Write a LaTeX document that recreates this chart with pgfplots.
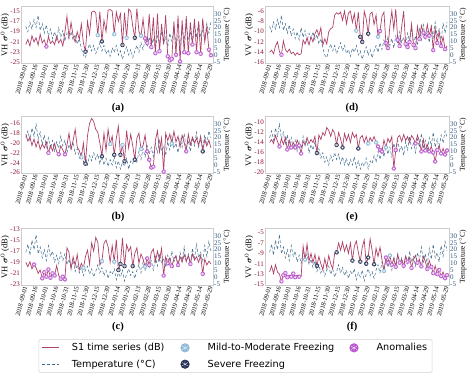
\documentclass[border=0pt]{standalone}
\usepackage{amsmath}
\usepackage{pgfplots}
\usepackage{pgfplotstable}
\pgfplotsset{compat=1.18}
\usepackage{fontspec}
\setmainfont{Liberation Serif}
\newfontfamily\legfont{DejaVu Sans}
\newcommand{\fs}[1]{\fontsize{#1}{#1}\selectfont}

\definecolor{sone}{RGB}{175,65,105}
\definecolor{tmp}{RGB}{60,105,140}
\definecolor{mild}{RGB}{140,185,215}
\definecolor{sev}{RGB}{35,45,80}
\definecolor{anom}{RGB}{185,85,205}
\definecolor{ltick}{RGB}{140,20,50}
\definecolor{rtick}{RGB}{50,90,130}

\pgfdeclareplotmark{flake}{%
  \pgfpathcircle{\pgfpointorigin}{\pgfplotmarksize}%
  \pgfusepathqfill
  \pgfsetstrokecolor{white}%
  \pgfsetlinewidth{0.25pt}%
  \pgfpathmoveto{\pgfpointpolar{90}{0.75\pgfplotmarksize}}\pgfpathlineto{\pgfpointpolar{270}{0.75\pgfplotmarksize}}%
  \pgfpathmoveto{\pgfpointpolar{30}{0.75\pgfplotmarksize}}\pgfpathlineto{\pgfpointpolar{210}{0.75\pgfplotmarksize}}%
  \pgfpathmoveto{\pgfpointpolar{150}{0.75\pgfplotmarksize}}\pgfpathlineto{\pgfpointpolar{330}{0.75\pgfplotmarksize}}%
  \pgfusepathqstroke
}

\pgfplotsset{
  common/.style={scale only axis, anchor=south west, height=57pt, xmin=-7, xmax=273,
    /pgf/number format/assume math mode=true, tick style={draw=none},
    axis line style={gray!40, line width=0.6pt}},
  tempax/.style={common, axis x line=none, axis y line*=right, ymin=-6.2, ymax=35.5,
    ytick={-5,0,...,30}, yticklabel style={font=\fs{7}, text=rtick, inner sep=1pt},
    ylabel={Temperature ($^{\circ}$C)}, ylabel style={font=\fs{7.5}, inner sep=1pt}},
  s1ax/.style={common, xtick={0,15,...,270},
    xticklabels={2018-09-01,2018-09-16,2018-10-01,2018-10-16,2018-10-31,2018-11-15,2018-11-30,2018-12-15,2018-12-30,2019-01-14,2019-01-29,2019-02-13,2019-02-28,2019-03-15,2019-03-30,2019-04-14,2019-04-29,2019-05-14,2019-05-29},
    xticklabel style={rotate=75, anchor=east, font=\fs{6.5}, inner sep=1pt},
    yticklabel style={font=\fs{7}, text=ltick, inner sep=1pt},
    ylabel style={font=\fs{8.5}, inner sep=0pt}},
  s1line/.style={sone, line width=0.7pt, no marks},
  tmpline/.style={tmp, densely dashed, line width=0.5pt, no marks},
  mk/.style={only marks, mark=flake, mark size=2.2pt},
}

\pgfplotstableread[row sep=\\]{x y\\0 21\\3 17\\6 24\\9 19\\12 26\\15 20\\18 29\\21 18\\24 23\\27 16\\30 22\\33 14\\36 19\\39 12\\42 17\\45 11\\48 20\\51 13\\54 18\\57 10\\60 16\\63 12\\66 17\\69 11\\72 15\\75 8\\78 12\\81 5\\84 0\\87 -2\\90 4\\93 8\\96 3\\99 7\\102 1\\105 5\\108 9\\111 3\\114 7\\117 1\\120 4\\123 -1\\126 5\\129 2\\132 7\\135 0\\138 3\\141 -3\\144 2\\147 6\\150 0\\153 4\\156 -2\\159 3\\162 7\\165 2\\168 9\\171 4\\174 11\\177 6\\180 13\\183 7\\186 12\\189 5\\192 14\\195 8\\198 17\\201 9\\204 13\\207 6\\210 16\\213 10\\216 20\\219 8\\222 14\\225 7\\228 19\\231 11\\234 22\\237 12\\240 17\\243 9\\246 21\\249 13\\252 24\\255 14\\258 19\\261 11\\264 23\\267 16\\270 24\\}\tA

\pgfplotstableread[row sep=\\]{x y\\0 20\\3 25\\6 18\\9 27\\12 21\\15 30\\18 19\\21 24\\24 15\\27 22\\30 13\\33 20\\36 12\\39 18\\42 10\\45 17\\48 12\\51 21\\54 14\\57 18\\60 9\\63 15\\66 11\\69 17\\72 8\\75 12\\78 5\\81 9\\84 2\\87 6\\90 0\\93 7\\96 3\\99 9\\102 4\\105 8\\108 1\\111 6\\114 0\\117 5\\120 -1\\123 4\\126 0\\129 6\\132 -2\\135 3\\138 -3\\141 2\\144 -1\\147 5\\150 -3\\153 3\\156 1\\159 7\\162 2\\165 10\\168 4\\171 12\\174 6\\177 14\\180 8\\183 13\\186 6\\189 16\\192 9\\195 18\\198 10\\201 14\\204 7\\207 17\\210 11\\213 21\\216 12\\219 16\\222 9\\225 19\\228 13\\231 23\\234 12\\237 18\\240 10\\243 20\\246 14\\249 24\\252 13\\255 19\\258 12\\261 22\\264 16\\267 25\\270 20\\}\tB

\pgfplotstableread[row sep=\\]{x y\\0 18\\3 24\\6 16\\9 27\\12 20\\15 31\\18 17\\21 22\\24 14\\27 20\\30 12\\33 23\\36 15\\39 19\\42 11\\45 16\\48 10\\51 18\\54 12\\57 17\\60 9\\63 13\\66 7\\69 12\\72 4\\75 9\\78 3\\81 7\\84 1\\87 5\\90 8\\93 2\\96 6\\99 0\\102 4\\105 9\\108 3\\111 7\\114 1\\117 5\\120 -1\\123 4\\126 2\\129 6\\132 -2\\135 3\\138 0\\141 5\\144 -3\\147 2\\150 6\\153 1\\156 4\\159 -1\\162 5\\165 9\\168 3\\171 11\\174 5\\177 13\\180 7\\183 12\\186 5\\189 15\\192 8\\195 17\\198 10\\201 14\\204 7\\207 16\\210 9\\213 19\\216 11\\219 15\\222 8\\225 18\\228 12\\231 22\\234 11\\237 17\\240 9\\243 21\\246 13\\249 24\\252 14\\255 18\\258 11\\261 23\\264 15\\267 26\\270 19\\}\tC

\pgfplotstableread[row sep=\\]{x y\\0 -21.5\\3 -20.5\\6 -21.8\\9 -19.8\\12 -21.0\\15 -20.2\\18 -21.6\\21 -19.5\\24 -21.2\\27 -20.6\\30 -21.9\\33 -20.0\\36 -21.3\\39 -20.8\\42 -21.5\\45 -19.9\\48 -21.2\\51 -20.5\\54 -21.8\\57 -19.2\\60 -16.0\\63 -20.1\\66 -17.2\\69 -19.8\\72 -21.0\\75 -19.0\\78 -20.5\\81 -17.5\\84 -21.2\\87 -22.9\\90 -17.0\\93 -19.5\\96 -15.2\\99 -15.0\\102 -15.3\\105 -19.7\\108 -15.1\\111 -20.9\\114 -16.8\\117 -19.0\\120 -14.8\\123 -14.7\\126 -15.0\\129 -19.5\\132 -15.2\\135 -17.0\\138 -15.5\\141 -21.6\\144 -15.3\\147 -20.2\\150 -14.6\\153 -15.0\\156 -18.0\\159 -20.2\\162 -14.5\\165 -19.0\\168 -19.8\\171 -16.5\\174 -20.3\\177 -21.2\\180 -15.6\\183 -22.0\\186 -16.2\\189 -23.2\\192 -15.5\\195 -22.8\\198 -17.5\\201 -21.5\\204 -15.8\\207 -23.8\\210 -24.6\\213 -24.3\\216 -17.0\\219 -23.5\\222 -15.9\\225 -24.8\\228 -16.8\\231 -23.0\\234 -16.0\\237 -23.2\\240 -17.2\\243 -21.5\\246 -16.5\\249 -23.0\\252 -17.0\\255 -23.3\\258 -16.4\\261 -21.0\\264 -18.0\\267 -22.5\\270 -23.6\\}\sA

\pgfplotstableread[row sep=\\]{x y\\0 -18.2\\3 -19.6\\6 -18.8\\9 -20.5\\12 -19.2\\15 -20.8\\18 -19.5\\21 -21.3\\24 -20.2\\27 -21.0\\30 -19.8\\33 -22.0\\36 -20.5\\39 -21.6\\42 -20.1\\45 -21.8\\48 -22.3\\51 -20.6\\54 -21.4\\57 -22.3\\60 -20.4\\63 -18.0\\66 -21.2\\69 -19.5\\72 -17.2\\75 -20.8\\78 -21.5\\81 -22.9\\84 -20.0\\87 -24.2\\90 -18.5\\93 -16.0\\96 -15.0\\99 -15.6\\102 -17.2\\105 -17.8\\108 -20.0\\111 -22.7\\114 -18.0\\117 -21.5\\120 -17.2\\123 -20.2\\126 -18.6\\129 -22.4\\132 -19.0\\135 -16.6\\138 -22.4\\141 -20.4\\144 -23.7\\147 -17.5\\150 -21.0\\153 -18.2\\156 -20.6\\159 -23.4\\162 -19.0\\165 -18.0\\168 -21.2\\171 -20.5\\174 -18.4\\177 -21.7\\180 -23.4\\183 -25.0\\186 -24.8\\189 -19.5\\192 -17.5\\195 -21.8\\198 -19.0\\201 -25.8\\204 -18.0\\207 -19.5\\210 -18.2\\213 -20.1\\216 -17.6\\219 -19.8\\222 -18.6\\225 -20.8\\228 -18.4\\231 -19.9\\234 -21.7\\237 -18.2\\240 -20.4\\243 -18.8\\246 -20.0\\249 -19.0\\252 -20.5\\255 -18.6\\258 -21.7\\261 -19.3\\264 -20.6\\267 -19.4\\270 -21.0\\}\sB

\pgfplotstableread[row sep=\\]{x y\\0 -19.0\\3 -19.8\\6 -18.9\\9 -20.2\\12 -19.4\\15 -20.0\\18 -21.0\\21 -20.4\\24 -21.9\\27 -20.8\\30 -21.6\\33 -20.3\\36 -21.8\\39 -21.0\\42 -21.4\\45 -19.6\\48 -21.4\\51 -22.0\\54 -21.6\\57 -22.1\\60 -16.4\\63 -17.2\\66 -20.2\\69 -18.0\\72 -19.6\\75 -17.6\\78 -20.4\\81 -19.2\\84 -20.0\\87 -18.0\\90 -16.8\\93 -19.4\\96 -15.5\\99 -17.0\\102 -14.5\\105 -15.4\\108 -19.5\\111 -18.8\\114 -15.6\\117 -15.0\\120 -16.2\\123 -19.0\\126 -16.0\\129 -18.9\\132 -14.9\\135 -20.4\\138 -19.3\\141 -14.6\\144 -19.7\\147 -15.8\\150 -17.0\\153 -16.2\\156 -19.7\\159 -17.4\\162 -16.4\\165 -19.2\\168 -17.5\\171 -18.4\\174 -19.8\\177 -18.3\\180 -19.5\\183 -17.2\\186 -16.6\\189 -18.9\\192 -17.0\\195 -18.6\\198 -16.5\\201 -21.4\\204 -18.0\\207 -19.2\\210 -18.2\\213 -19.7\\216 -18.4\\219 -17.8\\222 -19.5\\225 -18.0\\228 -19.0\\231 -17.6\\234 -18.8\\237 -17.8\\240 -19.3\\243 -17.5\\246 -18.6\\249 -18.0\\252 -19.0\\255 -17.8\\258 -21.1\\261 -18.4\\264 -19.5\\267 -18.8\\270 -19.3\\}\sC

\pgfplotstableread[row sep=\\]{x y\\0 -14.0\\3 -13.6\\6 -14.3\\9 -12.8\\12 -12.0\\15 -13.9\\18 -14.5\\21 -11.8\\24 -13.5\\27 -14.0\\30 -13.4\\33 -14.3\\36 -14.0\\39 -14.6\\42 -14.1\\45 -14.5\\48 -14.3\\51 -11.6\\54 -12.4\\57 -11.2\\60 -12.6\\63 -11.0\\66 -12.0\\69 -10.4\\72 -9.6\\75 -10.8\\78 -9.2\\81 -12.6\\84 -11.4\\87 -12.4\\90 -10.0\\93 -9.4\\96 -9.2\\99 -6.8\\102 -6.3\\105 -6.6\\108 -6.2\\111 -7.8\\114 -6.0\\117 -8.5\\120 -6.4\\123 -6.0\\126 -8.2\\129 -6.5\\132 -9.8\\135 -6.2\\138 -11.0\\141 -12.0\\144 -6.0\\147 -7.5\\150 -10.4\\153 -6.5\\156 -6.2\\159 -8.6\\162 -6.8\\165 -11.0\\168 -9.9\\171 -7.0\\174 -6.2\\177 -12.2\\180 -13.2\\183 -9.0\\186 -6.0\\189 -9.5\\192 -5.6\\195 -11.6\\198 -12.8\\201 -9.0\\204 -6.0\\207 -12.4\\210 -13.0\\213 -12.0\\216 -8.5\\219 -12.6\\222 -13.2\\225 -9.0\\228 -11.4\\231 -8.8\\234 -10.2\\237 -11.0\\240 -8.6\\243 -10.8\\246 -9.0\\249 -13.6\\252 -9.4\\255 -12.2\\258 -10.0\\261 -12.8\\264 -11.0\\267 -13.4\\270 -12.8\\}\sD

\pgfplotstableread[row sep=\\]{x y\\0 -14.0\\3 -13.4\\6 -14.2\\9 -12.6\\12 -13.8\\15 -14.8\\18 -13.2\\21 -14.4\\24 -13.0\\27 -15.4\\30 -13.6\\33 -15.0\\36 -14.0\\39 -15.0\\42 -13.5\\45 -14.6\\48 -16.2\\51 -13.8\\54 -14.4\\57 -13.0\\60 -14.2\\63 -13.4\\66 -14.0\\69 -12.8\\72 -16.1\\75 -12.5\\78 -13.4\\81 -12.0\\84 -12.6\\87 -11.0\\90 -11.6\\93 -12.8\\96 -11.4\\99 -12.2\\102 -14.5\\105 -12.0\\108 -13.2\\111 -15.0\\114 -12.2\\117 -13.6\\120 -12.4\\123 -14.0\\126 -12.0\\129 -13.0\\132 -12.4\\135 -15.2\\138 -13.0\\141 -12.6\\144 -14.0\\147 -12.8\\150 -14.2\\153 -13.0\\156 -13.8\\159 -12.8\\162 -14.0\\165 -14.8\\168 -15.5\\171 -15.8\\174 -13.5\\177 -15.0\\180 -13.2\\183 -14.0\\186 -12.8\\189 -19.2\\192 -15.5\\195 -13.0\\198 -12.6\\201 -13.8\\204 -12.4\\207 -13.6\\210 -12.8\\213 -14.0\\216 -12.6\\219 -13.2\\222 -14.2\\225 -12.5\\228 -13.8\\231 -15.8\\234 -13.4\\237 -15.6\\240 -14.4\\243 -15.8\\246 -14.8\\249 -16.0\\252 -17.8\\255 -15.5\\258 -14.6\\261 -16.2\\264 -15.2\\267 -16.4\\270 -15.6\\}\sE

\pgfplotstableread[row sep=\\]{x y\\0 -12.6\\3 -11.4\\6 -12.9\\9 -11.2\\12 -12.6\\15 -13.0\\18 -14.4\\21 -13.2\\24 -12.8\\27 -13.6\\30 -13.2\\33 -13.5\\36 -12.9\\39 -13.6\\42 -13.2\\45 -13.5\\48 -13.4\\51 -7.6\\54 -10.2\\57 -7.2\\60 -10.5\\63 -9.0\\66 -10.8\\69 -9.2\\72 -11.4\\75 -9.6\\78 -11.0\\81 -12.2\\84 -10.0\\87 -11.8\\90 -9.4\\93 -11.0\\96 -12.0\\99 -9.0\\102 -8.8\\105 -7.0\\108 -8.4\\111 -6.8\\114 -8.6\\117 -7.4\\120 -9.0\\123 -7.0\\126 -10.4\\129 -7.6\\132 -6.6\\135 -8.8\\138 -10.6\\141 -7.8\\144 -6.4\\147 -11.0\\150 -9.8\\153 -6.2\\156 -8.4\\159 -11.1\\162 -8.0\\165 -9.6\\168 -7.8\\171 -10.2\\174 -12.4\\177 -9.8\\180 -10.8\\183 -9.4\\186 -11.2\\189 -10.0\\192 -11.6\\195 -9.2\\198 -10.8\\201 -10.2\\204 -11.4\\207 -9.6\\210 -10.6\\213 -9.8\\216 -11.8\\219 -10.2\\222 -9.4\\225 -10.8\\228 -10.2\\231 -11.5\\234 -9.6\\237 -10.6\\240 -12.0\\243 -10.4\\246 -11.6\\249 -12.8\\252 -11.4\\255 -13.0\\258 -12.2\\261 -13.4\\264 -12.6\\267 -13.8\\270 -13.2\\}\sF

\begin{document}
\begin{tikzpicture}
\path[use as bounding box] (0pt,0pt) rectangle (474pt,376pt);

% ---------- (a)
\begin{axis}[tempax, at={(21pt,312.5pt)}, width=192pt]
\addplot[tmpline] table {\tA};
\end{axis}
\begin{axis}[s1ax, at={(21pt,312.5pt)}, width=192pt, ymin=-25.2, ymax=-14.1, ytick={-25,-23,...,-15}, ylabel={VH $\boldsymbol{\sigma}^{0}$ (dB)}]
\addplot[s1line] table {\sA};
\addplot[mk, anom] coordinates {(30,-21.9)(174,-20.3)(177,-21.2)(183,-22.0)(189,-23.2)(195,-22.8)(207,-23.8)(210,-24.6)(213,-24.3)(219,-23.5)(225,-24.8)(231,-23.0)(237,-23.2)(243,-21.5)(249,-23.0)(255,-23.3)(267,-22.5)(270,-23.6)};
\addplot[mk, mild] coordinates {(105,-19.7)(129,-19.5)(147,-20.2)(168,-19.8)};
\addplot[mk, sev] coordinates {(87,-22.9)(111,-20.9)(141,-21.6)(159,-20.2)};
\end{axis}

% ---------- (b)
\begin{axis}[tempax, at={(21pt,202.5pt)}, width=192pt]
\addplot[tmpline] table {\tB};
\end{axis}
\begin{axis}[s1ax, at={(21pt,202.5pt)}, width=192pt, ymin=-26.2, ymax=-14.6, ytick={-26,-24,...,-16}, ylabel={VH $\boldsymbol{\sigma}^{0}$ (dB)}]
\addplot[s1line] table {\sB};
\addplot[mk, anom] coordinates {(33,-22.0)(48,-22.3)(57,-22.3)(177,-21.7)(180,-23.4)(183,-25.0)(186,-24.8)(201,-25.8)(234,-21.7)};
\addplot[mk, mild] coordinates {(81,-22.9)(123,-20.2)(141,-20.4)(168,-21.2)(213,-20.1)};
\addplot[mk, sev] coordinates {(87,-24.2)(111,-22.7)(129,-22.4)(138,-22.4)(144,-23.7)(159,-23.4)(258,-21.7)};
\end{axis}

% ---------- (c)
\begin{axis}[tempax, at={(21pt,90.5pt)}, width=192pt]
\addplot[tmpline] table {\tC};
\end{axis}
\begin{axis}[s1ax, at={(21pt,90.5pt)}, width=192pt, ymin=-23.2, ymax=-12.9, ytick={-23,-21,...,-13}, ylabel={VH $\boldsymbol{\sigma}^{0}$ (dB)}]
\addplot[s1line] table {\sC};
\addplot[mk, anom] coordinates {(12,-19.4)(24,-21.9)(27,-20.8)(30,-21.6)(33,-20.3)(36,-21.8)(39,-21.0)(42,-21.4)(51,-22.0)(54,-21.6)(57,-22.1)(177,-18.3)(180,-19.5)(201,-21.4)(207,-19.2)(213,-19.7)(222,-19.5)(240,-19.3)(258,-21.1)};
\addplot[mk, mild] coordinates {(84,-20.0)(111,-18.8)(129,-18.9)(174,-19.8)};
\addplot[mk, sev] coordinates {(135,-20.4)(138,-19.3)(144,-19.7)(156,-19.7)};
\end{axis}

% ---------- (d)
\begin{axis}[tempax, at={(265pt,312.5pt)}, width=184pt]
\addplot[tmpline] table {\tA};
\end{axis}
\begin{axis}[s1ax, at={(265pt,312.5pt)}, width=184pt, ymin=-16.2, ymax=-5.1, ytick={-16,-14,...,-6}, ylabel={VV $\boldsymbol{\sigma}^{0}$ (dB)}]
\addplot[s1line] table {\sD};
\addplot[mk, anom] coordinates {(18,-14.5)(168,-9.9)(177,-12.2)(180,-13.2)(195,-11.6)(198,-12.8)(207,-12.4)(210,-13.0)(213,-12.0)(219,-12.6)(222,-13.2)(228,-11.4)(234,-10.2)(237,-11.0)(243,-10.8)(249,-13.6)(255,-12.2)(261,-12.8)(267,-13.4)};
\addplot[mk, mild] coordinates {(132,-9.8)(165,-11.0)};
\addplot[mk, sev] coordinates {(138,-11.0)(141,-12.0)(150,-10.4)};
\end{axis}

% ---------- (e)
\begin{axis}[tempax, at={(265pt,202.5pt)}, width=184pt]
\addplot[tmpline] table {\tB};
\end{axis}
\begin{axis}[s1ax, at={(265pt,202.5pt)}, width=184pt, ymin=-20.2, ymax=-8.8, ytick={-20,-18,...,-10}, ylabel={VV $\boldsymbol{\sigma}^{0}$ (dB)}]
\addplot[s1line] table {\sE};
\addplot[mk, anom] coordinates {(15,-14.8)(27,-15.4)(33,-15.0)(39,-15.0)(45,-14.6)(48,-16.2)(165,-14.8)(168,-15.5)(171,-15.8)(189,-19.2)(192,-15.5)(222,-14.2)(231,-15.8)(237,-15.6)(243,-15.8)(249,-16.0)(252,-17.8)(255,-15.5)(261,-16.2)(267,-16.4)(270,-15.6)};
\addplot[mk, mild] coordinates {(150,-14.2)(162,-14.0)(177,-15.0)};
\addplot[mk, sev] coordinates {(72,-16.1)(102,-14.5)(111,-15.0)(135,-15.2)};
\end{axis}

% ---------- (f)
\begin{axis}[tempax, at={(265pt,90.5pt)}, width=184pt]
\addplot[tmpline] table {\tC};
\end{axis}
\begin{axis}[s1ax, at={(265pt,90.5pt)}, width=184pt, ymin=-15.2, ymax=-4.2, ytick={-15,-13,...,-5}, ylabel={VV $\boldsymbol{\sigma}^{0}$ (dB)}]
\addplot[s1line] table {\sF};
\addplot[mk, anom] coordinates {(18,-14.4)(21,-13.2)(24,-12.8)(27,-13.6)(33,-13.5)(36,-12.9)(39,-13.6)(45,-13.5)(177,-9.8)(180,-10.8)(186,-11.2)(192,-11.6)(198,-10.8)(204,-11.4)(210,-10.6)(216,-11.8)(225,-10.8)(231,-11.5)(240,-12.0)(246,-11.6)(249,-12.8)(255,-13.0)(258,-12.2)(261,-13.4)(267,-13.8)(270,-13.2)};
\addplot[mk, mild] coordinates {(54,-10.2)(174,-12.4)(183,-9.4)};
\addplot[mk, sev] coordinates {(72,-11.4)(102,-8.8)(126,-10.4)(138,-10.6)(147,-11.0)(150,-9.8)(159,-11.1)};
\end{axis}

\node[font=\bfseries\fs{10.5}] at (118pt,268pt) {(a)};
\node[font=\bfseries\fs{10.5}] at (118pt,159pt) {(b)};
\node[font=\bfseries\fs{10.5}] at (118pt,49pt) {(c)};
\node[font=\bfseries\fs{10.5}] at (352pt,268pt) {(d)};
\node[font=\bfseries\fs{10.5}] at (352pt,159pt) {(e)};
\node[font=\bfseries\fs{10.5}] at (352pt,49pt) {(f)};

% ---------- legend
\begin{axis}[at={(235.5pt,20pt)}, anchor=center, hide axis, scale only axis, width=10pt, height=10pt,
  xmin=0, xmax=1, ymin=0, ymax=1, legend columns=3, legend cell align=left,
  legend style={at={(0.5,0.5)}, anchor=center, draw=gray!35, rounded corners=1.5pt,
    font=\legfont\fs{9.7}, inner xsep=3pt, inner ysep=2pt, row sep=3.5pt, column sep=0pt,
    /tikz/column 1/.append style={column sep=10pt},
    /tikz/column 2/.append style={column sep=14pt},
    /tikz/column 3/.append style={column sep=16pt},
    /tikz/column 4/.append style={column sep=13pt},
    /tikz/column 5/.append style={column sep=16pt}}]
\addlegendimage{sone, line width=0.9pt, no marks}
\addlegendentry{S1 time series (dB)}
\addlegendimage{only marks, mark=flake, mark size=4.6pt, mild}
\addlegendentry{Mild-to-Moderate Freezing}
\addlegendimage{only marks, mark=flake, mark size=4.6pt, anom}
\addlegendentry{Anomalies}
\addlegendimage{tmp, densely dashed, line width=0.9pt, no marks}
\addlegendentry{Temperature (°C)}
\addlegendimage{only marks, mark=flake, mark size=4.6pt, sev}
\addlegendentry{Severe Freezing}
\end{axis}
\end{tikzpicture}
\end{document}
